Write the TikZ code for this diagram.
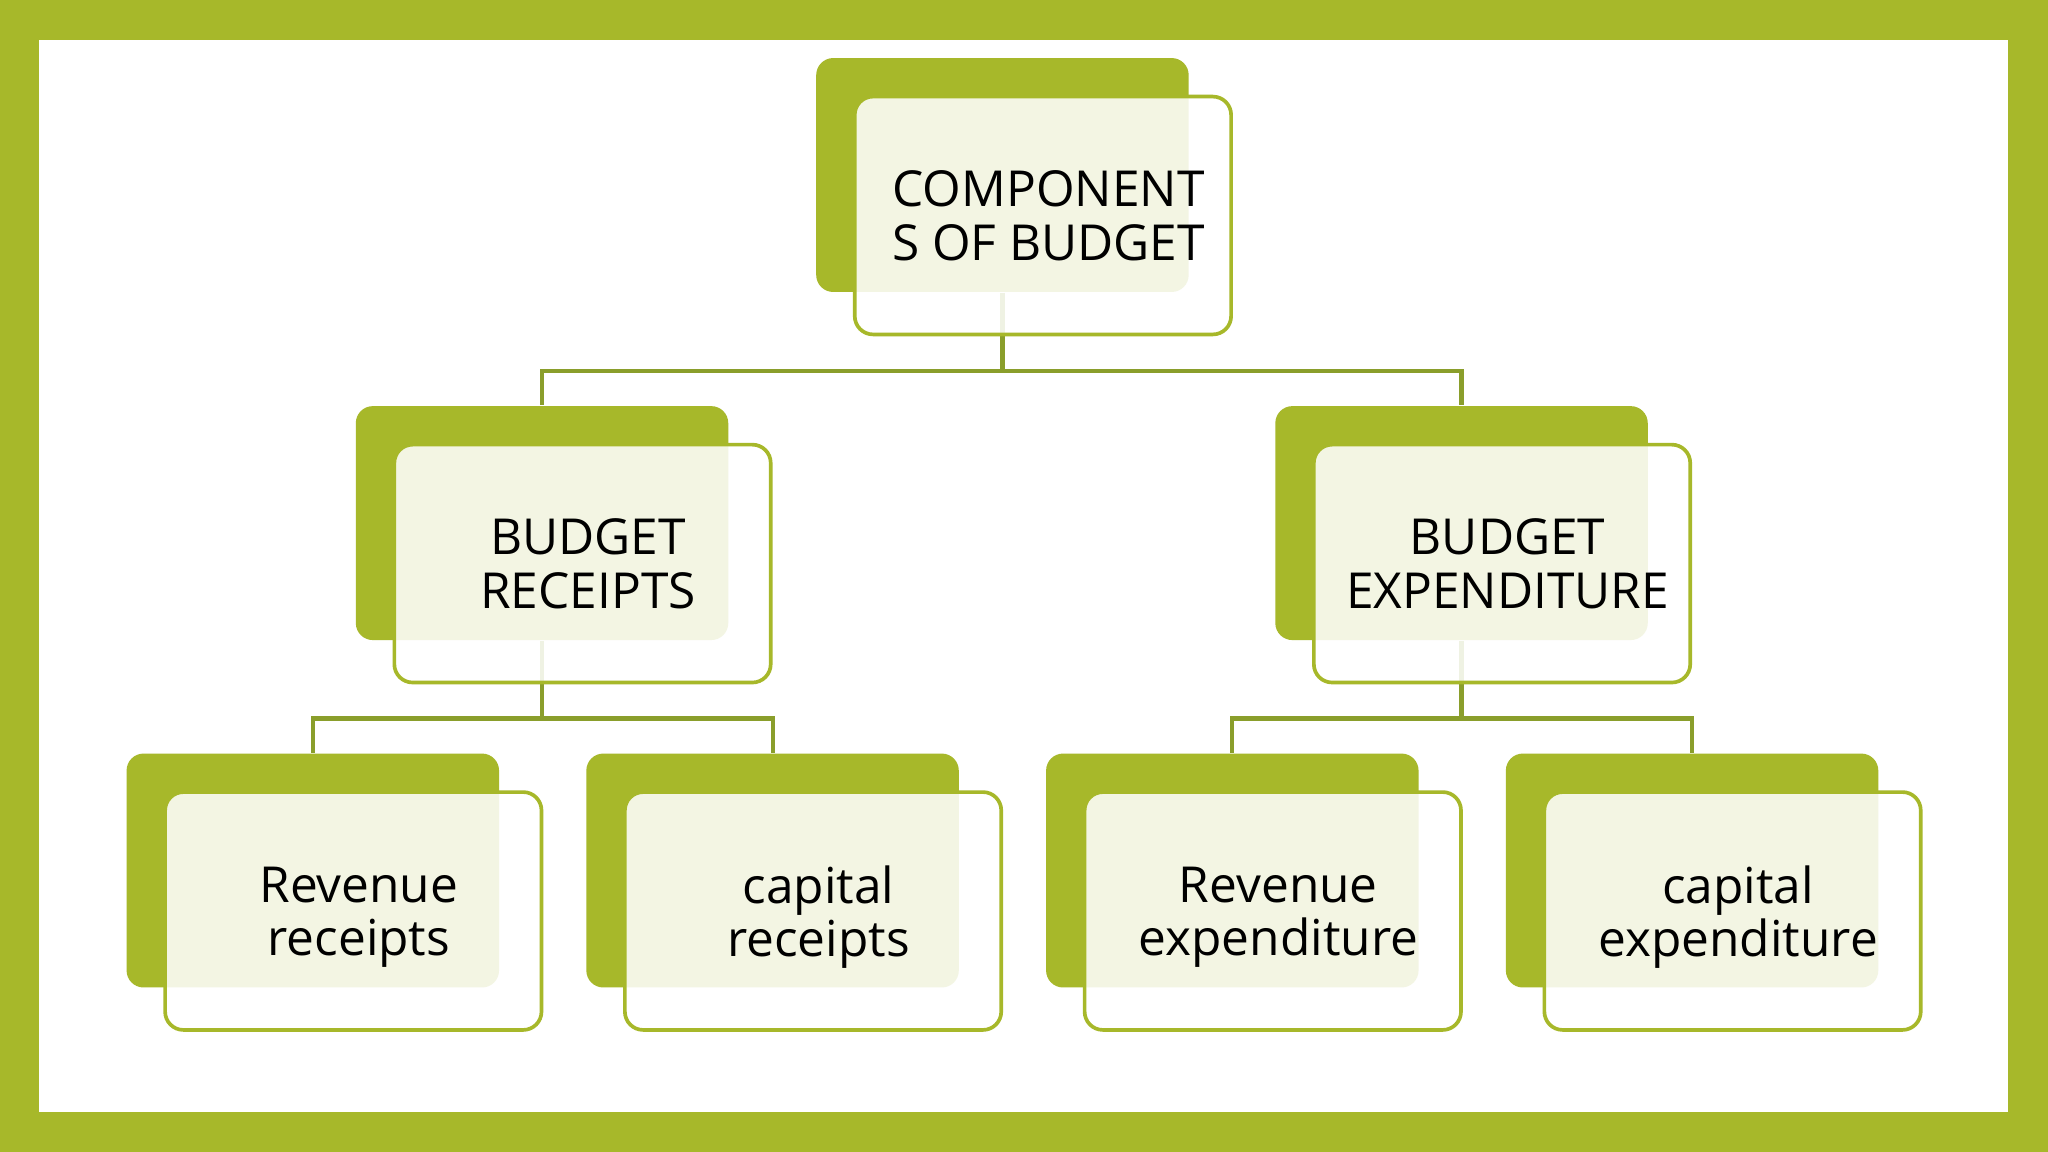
\documentclass[tikz,border=0pt]{standalone}
\usepackage{fontspec}
\setmainfont{Open Sans}
\usetikzlibrary{positioning,backgrounds,calc}
\definecolor{budgetgreen}{HTML}{A7B82A}
\definecolor{linkgreen}{HTML}{8A9E2B}

\begin{document}
\begin{tikzpicture}[x=0.01cm,y=-0.01cm,
    backbox/.style={rectangle,rounded corners=0.13cm,fill=budgetgreen,minimum width=2.85cm,minimum height=1.79cm,inner sep=0pt},
    boxtext/.style={opacity=1,inner sep=0pt,align=center,xshift=1.2pt,text depth=0pt,font=\fontsize{10.8}{11.6}\selectfont},
    frontbox/.style={rectangle,rounded corners=0.14cm,draw=budgetgreen,line width=0.8pt,fill=white,fill opacity=0.87,
      minimum width=2.88cm,minimum height=1.82cm,inner sep=0pt,label={[boxtext]center:#1}},
    link/.style={draw=linkgreen,line width=0.9pt}]

    % top level
    \node[backbox] (top) at (767.5,134) {};
    \node[frontbox={COMPONENT\\S OF BUDGET}] (top-f) at ($(top)+(31,31)$) {};

    % second level
    \node[backbox] (rec) at (415,400.5) {};
    \node[frontbox={BUDGET\\RECEIPTS}] (rec-f) at ($(rec)+(31,31)$) {};
    \node[backbox] (exp) at (1119,400.5) {};
    \node[frontbox={BUDGET\\EXPENDITURE}] (exp-f) at ($(exp)+(31,31)$) {};

    % third level
    \node[backbox] (revrec) at (239.5,666.5) {};
    \node[frontbox={Revenue\\receipts}] (revrec-f) at ($(revrec)+(31,31)$) {};
    \node[backbox] (caprec) at (591.5,666.5) {};
    \node[frontbox={capital\\receipts}] (caprec-f) at ($(caprec)+(31,31)$) {};
    \node[backbox] (revexp) at (943.5,666.5) {};
    \node[frontbox={Revenue\\expenditure}] (revexp-f) at ($(revexp)+(31,31)$) {};
    \node[backbox] (capexp) at (1295.5,666.5) {};
    \node[frontbox={capital\\expenditure}] (capexp-f) at ($(capexp)+(31,31)$) {};

    \coordinate (bus1) at ($(top-f.south)!0.5!(rec.north)$);
    \coordinate (bus2) at ($(rec-f.south)!0.5!(revrec.north)$);

    \begin{pgfonlayer}{background}
        \fill[budgetgreen] (0,0) rectangle (1568,882);
        \fill[white] (30,31) rectangle (1537,851);

        \draw[link] (top.south) -- (top.south |- bus1) -| (rec.north);
        \draw[link] (top.south |- bus1) -| (exp.north);
        \draw[link] (rec.south) -- (rec.south |- bus2) -| (revrec.north);
        \draw[link] (rec.south |- bus2) -| (caprec.north);
        \draw[link] (exp.south) -- (exp.south |- bus2) -| (revexp.north);
        \draw[link] (exp.south |- bus2) -| (capexp.north);
    \end{pgfonlayer}
\end{tikzpicture}
\end{document}
